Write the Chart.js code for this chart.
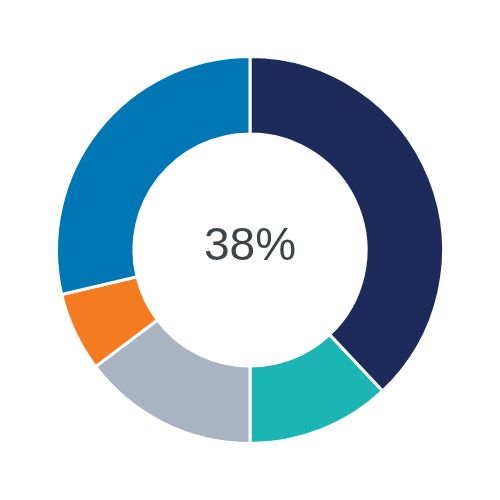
<!DOCTYPE html>
<html>
<head>
<meta charset="utf-8">
<script src="https://cdn.jsdelivr.net/npm/chart.js@4"></script>
<style>
  html, body { margin: 0; padding: 0; background: #ffffff; }
  #wrap { width: 500px; height: 500px; }
</style>
</head>
<body>
<div id="wrap"><canvas id="donut" width="500" height="500"></canvas></div>
<script>
const segmentLabels = ["Navy", "Teal", "Gray", "Orange", "Blue"];
const segmentValues = [38, 12, 14.7, 6.6, 28.7];
const segmentColors = ["#1c2b59", "#1bb5b4", "#a9b4c3", "#f47b20", "#0077b5"];
const centerLabel = "38%";

const centerText = {
  id: "centerText",
  afterDraw(chart) {
    const ctx = chart.ctx;
    const meta = chart.getDatasetMeta(0);
    if (!meta.data.length) return;
    const { x, y } = meta.data[0];
    ctx.save();
    ctx.font = "46px 'Liberation Sans', Arial, sans-serif";
    ctx.fillStyle = "#3f4449";
    ctx.textAlign = "center";
    ctx.textBaseline = "middle";
    ctx.fillText(centerLabel, x, y - 3);
    ctx.restore();
  }
};

const donutCanvas = document.getElementById("donut");

new Chart(donutCanvas, {
  type: "doughnut",
  data: {
    labels: segmentLabels,
    datasets: [
      {
        data: segmentValues,
        backgroundColor: segmentColors,
        borderColor: "#ffffff",
        borderWidth: 3
      }
    ]
  },
  options: {
    responsive: false,
    animation: false,
    cutout: "60%",
    layout: { padding: 55 },
    plugins: {
      legend: { display: false },
      tooltip: { enabled: false }
    }
  },
  plugins: [centerText]
});
</script>
</body>
</html>
